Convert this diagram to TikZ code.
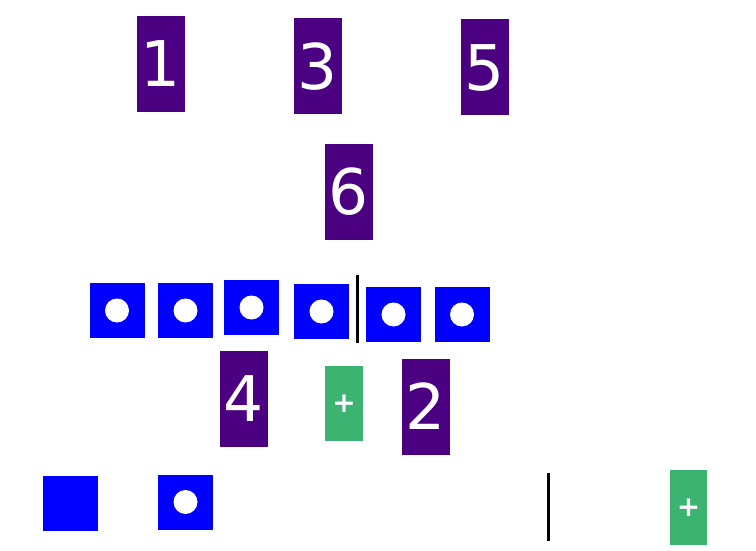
\documentclass[tikz,border=0pt]{standalone}
\usepackage{fontspec}
\setmainfont{DejaVu Sans}
\usepackage{tikz}
\usetikzlibrary{calc,positioning}
\definecolor{cardpurple}{HTML}{4B0082}
\definecolor{tileblue}{HTML}{0000FF}
\definecolor{plusgreen}{HTML}{3CB371}
\begin{document}
\begin{tikzpicture}[x=1pt,y=-1pt,
		card/.style={fill=cardpurple,text=white,inner sep=0pt,minimum width=48pt,minimum height=96pt,font=\fontsize{63}{63}\selectfont},
		tile/.style={fill=tileblue,inner sep=0pt,minimum width=55pt,minimum height=55pt},
		pluscard/.style={fill=plusgreen,text=white,inner sep=0pt,minimum width=38pt,minimum height=75pt,font=\fontsize{28}{28}\selectfont\bfseries},
		divider/.style={line width=3pt}]
			\useasboundingbox (0,0) rectangle (756,551);
			% number cards
			\foreach \n/\x/\y in {1/160.5/64,3/318/66.5,5/485/67.5,6/349/192,4/243.5/399,2/426/406.5}
			\node[card] (card\n) at (\x,\y) {\n};
			% blue tiles, with and without dot
			\foreach \i/\x/\y in {1/117/310.5,2/185.5/310.5,3/251.5/307.5,4/321.5/311.5,5/393.5/314.5,6/462/314.5,8/185.5/502}
			{\node[tile] (tile\i) at (\x,\y) {};
			\fill[white] (tile\i.center) circle (12);}
			\node[tile] (tile7) at (70.5,503.5) {};
			% plus cards
			\node[pluscard] (plusA) at (344,403.5) {+};
			\node[pluscard,minimum width=37pt] (plusB) at (688.5,507.5) {+};
			% dividers
			\coordinate (topA) at (357,275);
			\coordinate (botA) at (357,343);
			\coordinate (topB) at (548,473);
			\coordinate (botB) at (548,541);
			\draw[divider] (topA) -- (botA);
			\draw[divider] (topB) -- (botB);
		\end{tikzpicture}
\end{document}
